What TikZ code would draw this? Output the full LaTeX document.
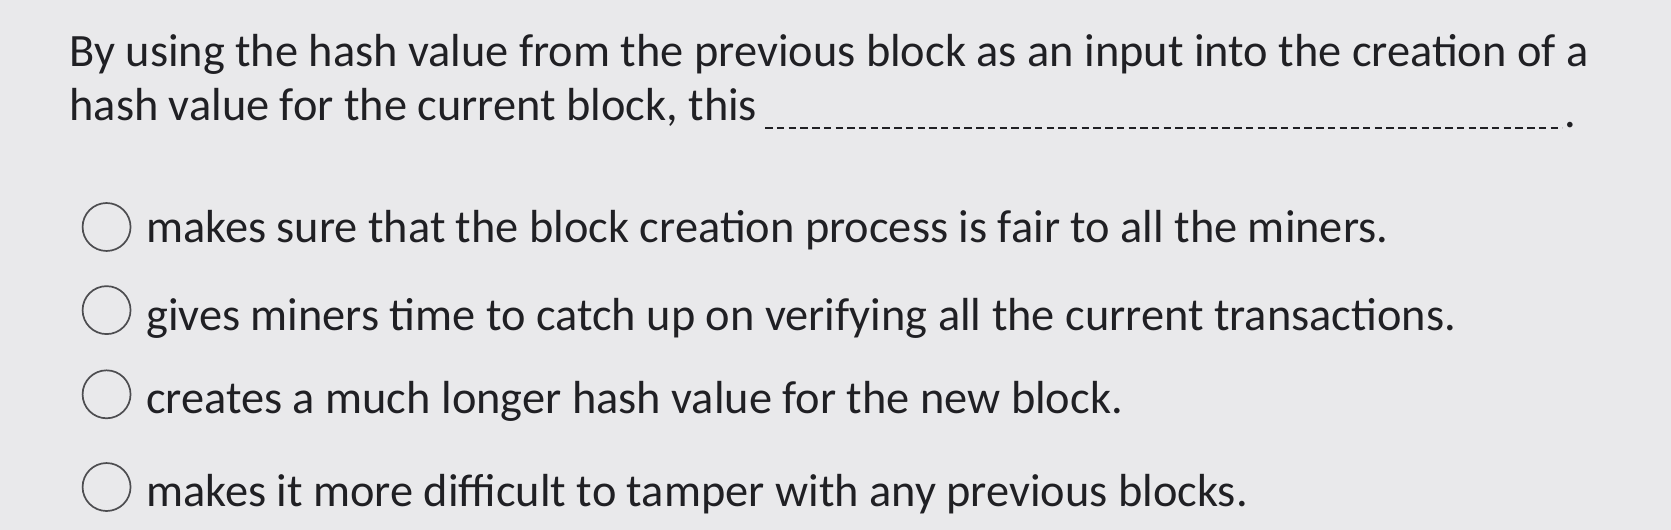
\documentclass[tikz,border=0pt]{standalone}
\usepackage{fontspec}
\setmainfont{Carlito}
\usetikzlibrary{positioning}
\definecolor{paper}{HTML}{E9E9EB}
\definecolor{ink}{HTML}{202024}
\begin{document}
\begin{tikzpicture}[x=1pt,y=-1pt,
    txt/.style={anchor=base west,inner sep=0,text=ink,font=\fontsize{43.5}{50}\selectfont},
    radio/.style={draw=ink!80,line width=1.6pt,circle,minimum size=45pt,inner sep=0},
  ]
  \fill[paper] (0,0) rectangle (1568,497.3);
  \useasboundingbox (0,0) rectangle (1568,497.3);
  %
  \node (q1) [txt] at (65,62) {By using the hash value from the previous block as an input into the creation of a};
  \node (q2) [txt] at (65,113) {hash value for the current block, this};
  \coordinate (blankA) at (718,120);
  \coordinate (blankB) at (1466,120);
  \draw[ink,line width=1.5pt,dash pattern=on 7pt off 4pt] (blankA) -- (blankB);
  \node (dot) [txt] at (1468,120) {.};
  %
  \node (r1) [radio] at (100,213) {};
  \node (r2) [radio] at (100,291) {};
  \node (r3) [radio] at (100,370) {};
  \node (r4) [radio] at (100,457) {};
  %
  \node (a1) [txt] at (137,228) {makes sure that the block creation process is fair to all the miners.};
  \node (a2) [txt] at (137,310) {gives miners time to catch up on verifying all the current transactions.};
  \node (a3) [txt] at (137,388) {creates a much longer hash value for the new block.};
  \node (a4) [txt] at (137,475) {makes it more difficult to tamper with any previous blocks.};
\end{tikzpicture}
\end{document}
